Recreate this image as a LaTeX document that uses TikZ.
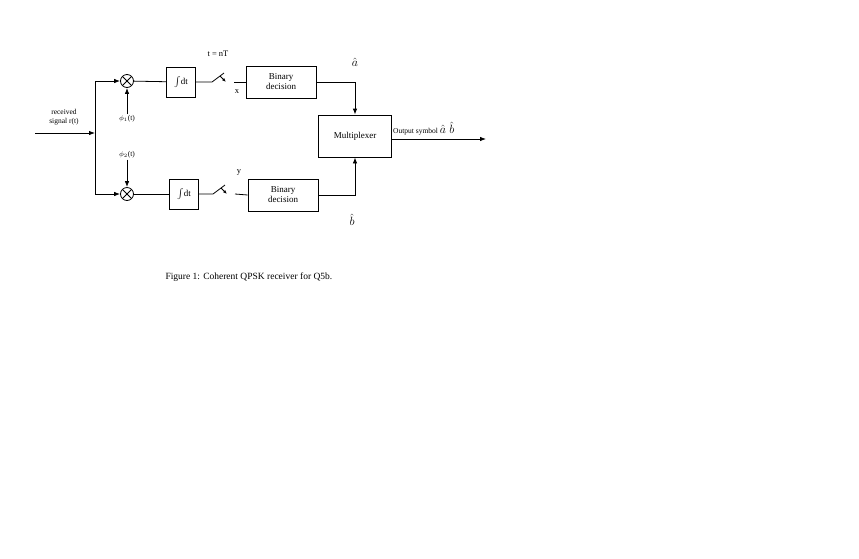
\documentclass[tikz,border=0pt]{standalone}
\usepackage{fontspec}
\setmainfont{Liberation Serif}
\usetikzlibrary{arrows.meta}
\begin{document}
\begin{tikzpicture}[x=1pt,y=-1pt,>={Latex[length=6pt,width=4.5pt]},
  box/.style={draw,thick,minimum width=#1,align=center,inner sep=1pt,font=\fontsize{9}{10}\selectfont},
  lbl/.style={font=\fontsize{7.5}{8.5}\selectfont,inner sep=1pt},
  mul/.style={draw,thick,circle,minimum size=13pt,inner sep=0pt,path picture={\draw[thick] (path picture bounding box.south west)--(path picture bounding box.north east) (path picture bounding box.north west)--(path picture bounding box.south east);}},
  wire/.style={thick}]
\useasboundingbox (0,0) rectangle (859,558);
\node[lbl,align=center] (rs) at (64,117) {received\\signal r(t)};
\coordinate (in) at (35,133);
\coordinate (sp) at (95,133);
\node[mul] (m1) at (127,81) {};
\node[mul] (m2) at (127,194) {};
\node[lbl] (p1) at (127,119) {$\phi_1$(t)};
\node[lbl] (p2) at (127,155) {$\phi_2$(t)};
\node[box=29pt,minimum height=30pt] (i1) at (181,82) {$\int$dt};
\node[box=29pt,minimum height=30pt] (i2) at (184,194) {$\int$dt};
\node[box=70pt,minimum height=32pt] (d1) at (281,82) {Binary\\decision};
\node[box=70pt,minimum height=32pt] (d2) at (283,195) {Binary\\decision};
\node[box=73pt,minimum height=42pt] (mx) at (355,136) {Multiplexer};
\draw[wire,->] (in) -- (sp);
\draw[wire,->] (sp) |- (m1);
\draw[wire,->] (sp) |- (m2);
\draw[wire,->] (p1.north) -- (m1);
\draw[wire,->] (p2.south) -- (m2);
\draw[wire] (m1) -- (i1);
\draw[wire] (m2) -- (i2);
% switches
\coordinate (s1a) at (212,82); \coordinate (s1b) at (234,82);
\draw[wire] (i1.east) -- (s1a) -- ++(12,-9);
\draw[wire,-{Latex[length=4pt]}] (220,76) -- (226,82);
\draw[wire] (s1b) -- (d1.west);
\coordinate (s2a) at (213,194); \coordinate (s2b) at (235,194);
\draw[wire] (i2.east) -- (s2a) -- ++(12,-9);
\draw[wire,-{Latex[length=4pt]}] (221,188) -- (227,194);
\draw[wire] (s2b) -- (d2.west);
\node[lbl,font=\fontsize{8.5}{9}\selectfont] (tn) at (218,54) {t = nT};
\node[lbl,font=\fontsize{8.5}{9}\selectfont] (xl) at (237,92) {x};
\node[lbl,font=\fontsize{8.5}{9}\selectfont] (yl) at (239,172) {y};
\draw[wire,->] (d1.east) -| (mx.north);
\draw[wire,->] (d2.east) -| (mx.south);
\node[font=\fontsize{12}{13}\selectfont] (ah) at (355,62) {$\hat{a}$};
\node[font=\fontsize{12}{13}\selectfont] (bh) at (352,220) {$\hat{b}$};
\coordinate (out) at (486,139);
\draw[wire,->] (mx.east |- out) -- (out);
\node[lbl,anchor=south west] (os) at (392,136) {Output symbol \fontsize{12}{13}\selectfont$\hat{a}\;\hat{b}$};
\node[font=\fontsize{9.5}{10}\selectfont,anchor=west] (cap) at (162,277) {Figure 1: Coherent QPSK receiver for Q5b.};
\end{tikzpicture}
\end{document}
